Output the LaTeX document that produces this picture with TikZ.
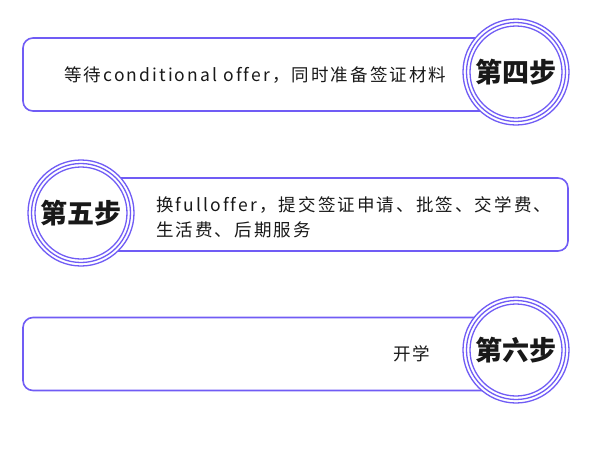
\documentclass[tikz,border=0pt]{standalone}
\usepackage{fontspec}
\setmainfont{Noto Sans CJK SC}
\newfontfamily\cjk{Noto Sans CJK SC}
\newfontfamily\cjkwide[LetterSpace=12,Ligatures=NoCommon]{Noto Sans CJK SC}
\definecolor{stepblue}{RGB}{112,92,245}
\begin{document}
\begin{tikzpicture}
  [x=1pt,y=-1pt,every node/.style={inner sep=0pt,text=black!90}]
  \tikzstyle{stepbox} = [draw=stepblue,line width=1.6pt,rounded corners=10pt,fill=white,minimum height=73pt]
  \tikzstyle{badge} = [circle,fill=white,minimum size=106pt,font=\cjk\bfseries\fontsize{27}{30}\selectfont]
  \tikzstyle{ringline} = [draw=stepblue,line width=1.3pt]
  \tikzstyle{steptext} = [anchor=west,align=left,font=\cjkwide\fontsize{17.5}{25}\selectfont]
  \useasboundingbox (0,0) rectangle (600,464);

  \node[stepbox,minimum width=487pt] (box4) at (266.5,74.5) {};
  \node[stepbox,minimum width=478pt] (box5) at (329,214.5) {};
  \node[stepbox,minimum width=487pt] (box6) at (266.5,354) {};

\foreach \name /\x /\y /\lbl in {step4/516/72/第四步,step5/81/213/第五步,step6/516/350/第六步} {
   \node[badge] (\name) at (\x,\y) {\lbl};
   \foreach \r in {53,49.5,46}
      \draw[ringline] (\name.center) circle (\r pt);
}

  \node[steptext] (txt4) at (64,75) {等待conditional offer，同时准备签证材料};
  \node[steptext] (txt5) at (156,217.5) {换fulloffer，提交签证申请、批签、交学费、\\生活费、后期服务};
  \node[steptext] (txt6) at (393,354) {开学};

\end{tikzpicture}
\end{document}
